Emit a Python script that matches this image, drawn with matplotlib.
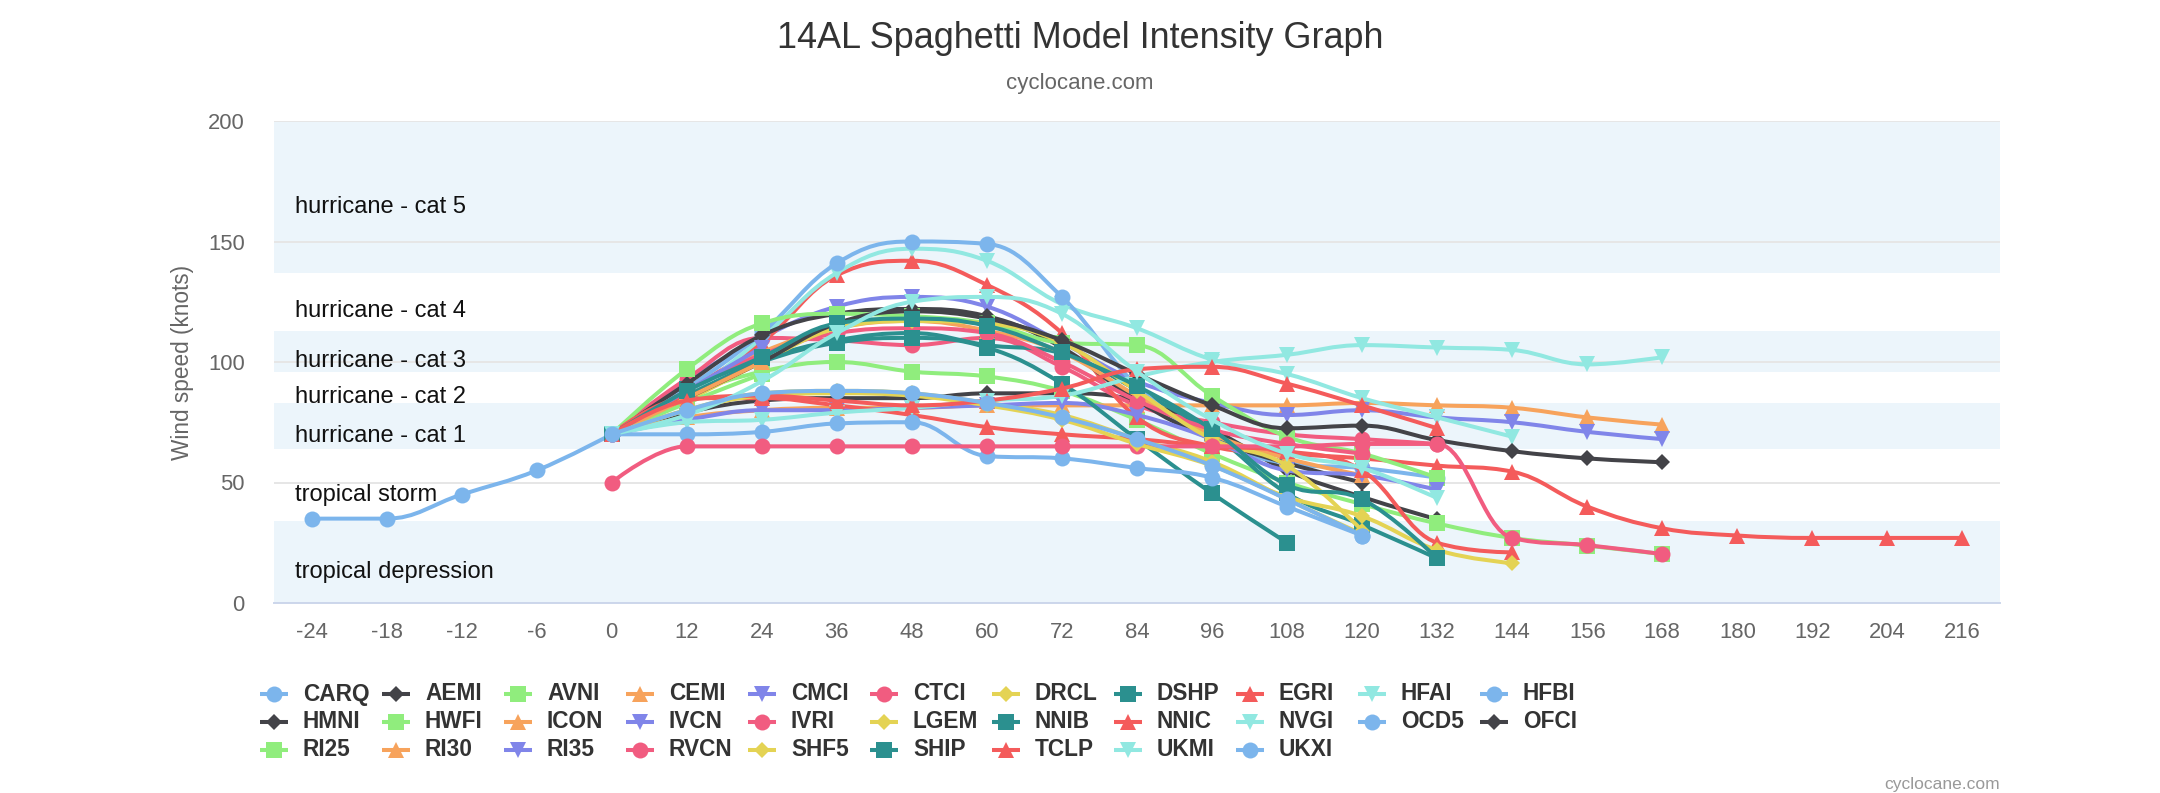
import matplotlib
matplotlib.use('Agg')
import matplotlib.pyplot as plt
from matplotlib.path import Path
from matplotlib.patches import PathPatch

plt.rcParams['font.family'] = ['Liberation Sans', 'DejaVu Sans']

# category axis, forecast hour
hour_labels = ['-24', '-18', '-12', '-6', '0', '12', '24', '36', '48', '60', '72',
               '84', '96', '108', '120', '132', '144', '156', '168', '180', '192',
               '204', '216']

# wind speed (kt); CARQ is 6-hourly from -24h, the models 12-hourly from 0h
CARQ = [35, 35, 45, 55, 70]
AEMI = [70, 79, 84, 85, 85, 87, 87, 84, 72, 55, 44, 34.7]
AVNI = [70, 86, 96, 100, 96, 94, 88, 76, 62, 50, 41, 33, 27, 23.8, 20.3]
CEMI = [70, 77, 80, 81, 81, 82, 82, 82, 82, 82, 83, 82, 81, 77, 74]
CMCI = [70, 92, 110, 123, 127, 123, 108, 92, 83, 78, 80, 77, 75, 71, 68]
CTCI = [70, 93, 110, 109, 107, 110, 98, 82, 75, 70, 68, 66]
DRCL = [70, 80, 87, 88, 87, 83, 78, 68, 58.6, 43, 28.6]
DSHP = [70, 89, 101, 109, 112, 107, 103.6, 88.4, 70.5, 45.5, 32.4, 18.5]
EGRI = [70, 88, 108, 136, 142, 132, 112, 77, 65, 62, 60, 57, 54.5, 40, 31, 28, 27, 27, 27]
HFAI = [70, 86, 110, 137, 147, 142, 124, 114, 101, 95, 85, 77, 69]
HFBI = [70, 89, 112, 141, 150, 149, 127, 90, 68, 58, 56, 52]
HMNI = [70, 91, 111, 120, 122, 119, 106, 84, 68, 58, 50]
HWFI = [70, 97, 116, 120, 119, 116, 108, 107, 86, 69, 62, 52]
ICON = [70, 88, 104, 114, 117, 113, 104, 86, 70, 60, 53]
IVCN = [70, 76, 80, 80, 81, 82, 83, 78, 68, 55, 53, 47]
IVRI = [70, 88, 103, 112, 114, 112, 100, 84, 72, 66, 62]
LGEM = [70, 84, 100, 114, 117, 116, 108, 88, 68, 57, 30]
NNIB = [70, 86, 100, 108, 110, 106, 91, 68, 45.5, 25]
NNIC = [70, 85, 85, 82, 78, 73, 70, 68, 65, 63, 55, 25, 21]
NVGI = [70, 75, 76, 79, 81, 84, 86, 94, 100, 103, 107, 106, 105, 99, 102]
OCD5 = [70, 70, 71, 74.5, 75, 61, 60, 56, 52, 40, 28]
OFCI = [70, 85, 100, 116, 121, 118, 109, 95, 82, 72.5, 73.6, 67.6, 63, 60, 58.4]
RI25 = [70, 83, 95]
RI30 = [70, 85, 100]
RI35 = [70, 88, 106]
RVCN = [50, 65, 65, 65, 65, 65, 65, 65, 65, 65, 66, 66, 27, 24, 20.3]
SHF5 = [70, 80, 86, 87, 86, 82, 76, 66, 57, 44, 36, 22, 16.5]
SHIP = [70, 88, 102, 116, 118, 115, 104, 90, 72, 49, 43, 18.5]
TCLP = [70, 84, 86, 84, 82, 84, 89, 97, 98, 91, 82, 72.5]
UKMI = [70, 78, 92, 112, 125, 127, 120, 96, 76, 62, 56, 43.5]
UKXI = [70, 80, 87, 88, 87, 83, 77, 68, 57, 43, 28]

model_names = ['CARQ', 'AEMI', 'AVNI', 'CEMI', 'CMCI', 'CTCI', 'DRCL', 'DSHP',
               'EGRI', 'HFAI', 'HFBI', 'HMNI', 'HWFI', 'ICON', 'IVCN', 'IVRI',
               'LGEM', 'NNIB', 'NNIC', 'NVGI', 'OCD5', 'OFCI', 'RI25', 'RI30',
               'RI35', 'RVCN', 'SHF5', 'SHIP', 'TCLP', 'UKMI', 'UKXI']
model_values = [CARQ, AEMI, AVNI, CEMI, CMCI, CTCI, DRCL, DSHP, EGRI, HFAI, HFBI,
                HMNI, HWFI, ICON, IVCN, IVRI, LGEM, NNIB, NNIC, NVGI, OCD5, OFCI,
                RI25, RI30, RI35, RVCN, SHF5, SHIP, TCLP, UKMI, UKXI]

band_edges = [0, 34, 64, 83, 96, 113, 137, 200]
band_names = ['tropical depression', 'tropical storm', 'hurricane - cat 1',
              'hurricane - cat 2', 'hurricane - cat 3', 'hurricane - cat 4',
              'hurricane - cat 5']

palette = ['#7cb5ec', '#434348', '#90ed7d', '#f7a35c', '#8085e9',
           '#f15c80', '#e4d354', '#2b908f', '#f45b5b', '#91e8e1']
symbols = ['o', 'D', 's', '^', 'v']
msize = {'o': 11.5, 's': 11.2, '^': 11.5, 'v': 11.5, 'D': 8.2}


def spline_path(xs, ys, smoothing=1.5):
    # highcharts style spline through the points
    den = smoothing + 1
    verts = [(xs[0], ys[0])]
    codes = [Path.MOVETO]
    prev_rc = None
    n = len(xs)
    for i in range(1, n):
        x, y = xs[i], ys[i]
        lx, ly = xs[i - 1], ys[i - 1]
        rc = None
        if i < n - 1:
            nx, ny = xs[i + 1], ys[i + 1]
            lcx = (smoothing * x + lx) / den
            lcy = (smoothing * y + ly) / den
            rcx = (smoothing * x + nx) / den
            rcy = (smoothing * y + ny) / den
            if rcx != lcx:
                corr = (rcy - lcy) * (rcx - x) / (rcx - lcx) + y - rcy
                lcy += corr
                rcy += corr
            if lcy > ly and lcy > y:
                lcy = max(ly, y)
                rcy = 2 * y - lcy
            elif lcy < ly and lcy < y:
                lcy = min(ly, y)
                rcy = 2 * y - lcy
            if rcy > ny and rcy > y:
                rcy = max(ny, y)
                lcy = 2 * y - rcy
            elif rcy < ny and rcy < y:
                rcy = min(ny, y)
                lcy = 2 * y - rcy
            rc = (rcx, rcy)
        else:
            lcx, lcy = x, y
        c1 = prev_rc if prev_rc is not None else (lx, ly)
        verts += [c1, (lcx, lcy), (x, y)]
        codes += [Path.CURVE4] * 3
        prev_rc = rc
    return Path(verts, codes)


W, H = 2160, 793
fig = plt.figure(figsize=(W / 100, H / 100), dpi=100)
ax = fig.add_axes([274 / W, 1 - 603 / H, 1726 / W, 482 / H])

# plot bands and labels
for k in range(len(band_names)):
    lo, hi = band_edges[k], band_edges[k + 1]
    if k % 2 == 0:
        ax.axhspan(lo, hi, color='#ecf5fb', lw=0, zorder=0.5)
    ax.text(21 / 1726, (lo + hi) / 2 - 4, band_names[k], transform=ax.get_yaxis_transform(),
            fontsize=17, color='#111111', va='center', ha='left', zorder=1.5)

for g in [50, 100, 150, 200]:
    ax.axhline(g, color='#e6e6e6', lw=1.4, zorder=1)

# series
for i, (name, vals) in enumerate(zip(model_names, model_values)):
    col = palette[i % 10]
    mk = symbols[i % 5]
    start = 0 if name == 'CARQ' else 4
    xs = list(range(start, start + len(vals)))
    z = 3 + i * 0.01
    ax.add_patch(PathPatch(spline_path(xs, vals), fill=False, edgecolor=col, lw=2.9,
                           capstyle='round', joinstyle='round', zorder=z))
    ax.plot(xs, vals, linestyle='none', marker=mk, ms=msize[mk], color=col,
            mew=0, zorder=z + 0.005, clip_on=False)

ax.set_xlim(-0.5, len(hour_labels) - 0.5)
ax.set_ylim(0, 200)
ax.set_xticks(range(len(hour_labels)))
ax.set_xticklabels(hour_labels)
ax.set_yticks([0, 50, 100, 150, 200])
ax.tick_params(axis='x', length=0, pad=14, labelsize=15.8, labelcolor='#666666')
ax.tick_params(axis='y', length=0, pad=21, labelsize=15.8, labelcolor='#666666')
for s in ['top', 'right', 'left']:
    ax.spines[s].set_visible(False)
ax.spines['bottom'].set_color('#ccd6eb')
ax.spines['bottom'].set_linewidth(1.4)
ax.spines['bottom'].set_zorder(2)
ax.text(-92 / 1726, 0.5, 'Wind speed (knots)', transform=ax.transAxes, rotation=90,
        ha='center', va='center', fontsize=16.3, color='#666666')

# overlay in pixel units for titles and legend
lax = fig.add_axes([0, 0, 1, 1])
lax.set_xlim(0, W)
lax.set_ylim(H, 0)
lax.axis('off')
lax.patch.set_visible(False)

lax.text(1080, 39, '14AL Spaghetti Model Intensity Graph', ha='center', va='center',
         fontsize=25.9, color='#333333')
lax.text(1080, 84, 'cyclocane.com', ha='center', va='center', fontsize=16,
         color='#666666')
lax.text(2000, 785, 'cyclocane.com', ha='right', va='center', fontsize=12.5,
         color='#999999')

row_y = [694, 722, 750]
for i, name in enumerate(model_names):
    r, c = divmod(i, 11)
    cx = 274 + 122 * c
    y = row_y[r]
    col = palette[i % 10]
    mk = symbols[i % 5]
    lax.plot([cx - 14, cx + 14], [y, y], color=col, lw=2.9, solid_capstyle='butt')
    lax.plot([cx], [y], marker=mk, ms=msize[mk], color=col, mew=0)
    lax.text(cx + 29, y, name, ha='left', va='center', fontsize=16.3,
             fontweight='bold', color='#333333')

fig.savefig('out.png', dpi=100)
